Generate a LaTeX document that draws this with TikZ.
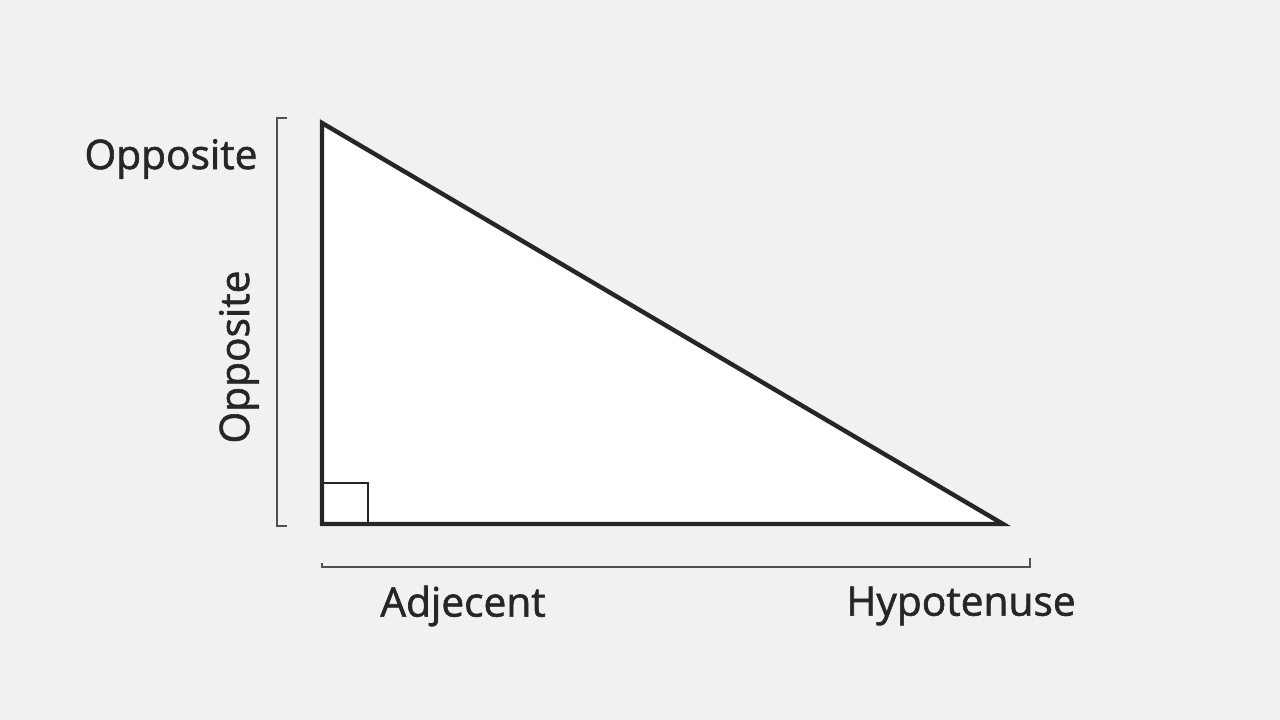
\documentclass[tikz,border=0pt]{standalone}
\usepackage{fontspec}
\setmainfont{Open Sans}
\newfontfamily\lblfont{Open Sans}[FakeBold=1.5]
\definecolor{bg}{HTML}{F1F1F1}
\definecolor{ink}{HTML}{262626}
\begin{document}
\begin{tikzpicture}[x=0.75pt,y=-0.75pt,
  lbl/.style={text=ink,font=\lblfont\fontsize{30.5}{35}\selectfont,inner sep=0pt},
  brk/.style={draw=ink!80,line width=1pt}]
\fill[bg] (0,0) rectangle (1280,720);
\useasboundingbox (0,0) rectangle (1280,720);
\coordinate (A) at (322,123);
\coordinate (B) at (322,524);
\coordinate (C) at (1003,524);
\fill[white] (A) -- (B) -- (C) -- cycle;
\draw[ink,line width=3.3pt,line join=miter] (A) -- (B) -- (C) -- cycle;
\draw[ink,line width=0.9pt] (322,483) -- (368,483) -- (368,524);
% left bracket
\coordinate (L1) at (287,118);
\coordinate (L2) at (287,526);
\draw[brk] (L1) -- (277,118) -- (277,526) -- (L2);
% bottom bracket
\coordinate (D1) at (322,563);
\coordinate (D2) at (1030,558);
\draw[brk] (D1) -- (322,567) -- (1030,567) -- (D2);
\node[lbl] (opp1) at (171,159) {Opposite};
\node[lbl,rotate=90] (opp2) at (239,357) {Opposite};
\node[lbl] (adj) at (463,606) {Adjecent};
\node[lbl] (hyp) at (961,606) {Hypotenuse};
\end{tikzpicture}
\end{document}
